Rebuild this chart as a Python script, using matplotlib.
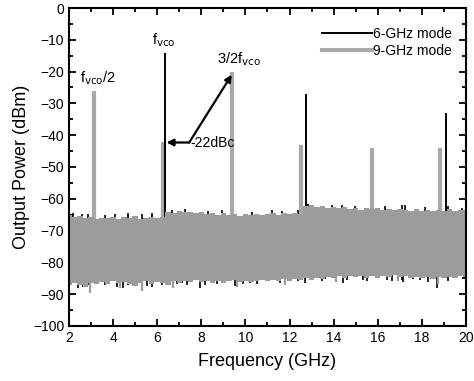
import matplotlib
matplotlib.use('Agg')
import matplotlib.pyplot as plt
from matplotlib.lines import Line2D

plt.rcParams['font.family'] = ['Liberation Sans', 'DejaVu Sans']

# noise floor envelope (GHz, dBm)
noise_freq = [2.00, 2.25, 2.50, 2.75, 3.00, 3.25, 3.50, 3.75, 4.00, 4.25,
              4.50, 4.75, 5.00, 5.25, 5.50, 5.75, 6.00, 6.25, 6.50, 6.75,
              7.00, 7.25, 7.50, 7.75, 8.00, 8.25, 8.50, 8.75, 9.00, 9.25,
              9.50, 9.75, 10.00, 10.25, 10.50, 10.75, 11.00, 11.25, 11.50,
              11.75, 12.00, 12.25, 12.50, 12.75, 13.00, 13.25, 13.50, 13.75,
              14.00, 14.25, 14.50, 14.75, 15.00, 15.25, 15.50, 15.75, 16.00,
              16.25, 16.50, 16.75, 17.00, 17.25, 17.50, 17.75, 18.00, 18.25,
              18.50, 18.75, 19.00, 19.25, 19.50, 19.75, 20.00]
noise_hi = [-65.2, -65.8, -65.5, -66.0, -65.6, -66.3, -65.9, -66.1, -65.7,
            -66.4, -65.8, -66.0, -65.5, -66.2, -65.9, -65.6, -66.1, -65.8,
            -64.0, -64.4, -63.8, -64.3, -64.0, -64.6, -64.2, -64.8, -64.5,
            -65.0, -64.6, -65.2, -64.8, -65.3, -64.9, -65.1, -64.7, -65.2,
            -64.8, -64.5, -65.0, -64.6, -64.9, -64.4, -64.7,
            -62.4, -62.0, -62.6, -62.2, -62.8, -62.5, -63.0, -62.6, -63.2,
            -62.8, -63.4, -63.0, -63.3, -62.9, -63.5, -63.1, -63.6, -63.2,
            -63.4, -63.8, -63.3, -63.7, -63.4, -63.9, -63.5, -63.8, -63.3,
            -63.7, -63.4, -63.6]
noise_lo = [-87.0, -86.5, -87.2, -87.8, -86.4, -86.9, -86.2, -86.8, -86.0,
            -86.6, -86.1, -86.9, -87.5, -86.4, -86.0, -86.7, -86.2, -86.5,
            -87.2, -86.0, -86.5, -85.8, -86.2, -85.6, -86.3, -85.8, -86.4,
            -85.9, -86.5, -86.0, -85.6, -86.2, -85.8, -86.3, -85.9, -85.4,
            -86.0, -85.5, -85.9, -85.3, -85.8, -85.2, -85.6,
            -85.0, -85.4, -84.8, -85.2, -84.6, -85.0, -84.4, -84.8, -84.2,
            -84.7, -84.3, -84.9, -84.4, -84.8, -84.2, -84.6, -84.1, -84.7,
            -84.3, -84.8, -84.5, -85.0, -84.6, -85.2, -84.7, -85.0, -84.5,
            -84.8, -84.3, -84.6]

# gray dips below the floor
gray_dip_freq = [2.95, 4.30, 5.30, 6.70, 9.60, 11.80, 14.10, 16.90, 18.75]
gray_dip_val = [-89.5, -88.0, -89.0, -88.2, -87.8, -87.2, -86.2, -86.0, -86.8]

# black excursions of the 6-GHz trace past the gray floor
black_lo_freq = [2.39, 2.65, 2.88, 3.63, 3.78, 4.16, 4.46, 4.69, 4.99, 5.52,
                 5.75, 6.20, 6.88, 7.11, 7.34, 7.94, 8.17, 8.70, 9.07, 9.53,
                 9.90, 10.21, 10.51, 11.04, 11.57, 12.40, 12.70, 13.46, 13.61,
                 14.44, 14.59, 15.34, 15.50, 16.40, 16.63, 17.09, 17.16,
                 17.61, 17.92, 18.29, 18.67, 19.20]
black_lo_val = [-88.0, -87.6, -87.2, -87.0, -86.8, -87.8, -88.0, -87.2, -86.8,
                -87.4, -87.8, -87.0, -86.8, -86.6, -87.2, -88.0, -87.0, -86.7,
                -86.5, -87.3, -86.8, -86.4, -86.8, -86.0, -86.6, -85.8, -86.4,
                -86.0, -85.2, -86.6, -85.6, -85.4, -86.0, -85.4, -85.8, -85.6,
                -86.2, -85.2, -85.6, -86.2, -88.0, -85.8]
black_hi_freq = [2.20, 2.57, 2.88, 3.63, 4.09, 4.69, 5.30, 5.75, 6.66, 7.26,
                 8.32, 8.92, 10.28, 11.19, 11.64, 12.40, 12.85, 13.91, 14.36,
                 14.97, 16.33, 17.08, 17.24, 18.14, 19.20, 19.80]
black_hi_val = [-64.6, -64.9, -64.7, -65.0, -64.8, -64.6, -64.9, -64.5, -63.4,
                -63.2, -63.8, -63.5, -64.0, -63.6, -63.9, -63.4, -61.6, -61.8,
                -62.0, -62.2, -62.4, -61.8, -62.0, -62.6, -62.4, -62.8]

# tones
mode6_freq = [6.35, 12.75, 19.09]
mode6_peak = [-14.0, -27.0, -33.0]
mode9_freq = [3.15, 6.28, 9.40, 12.50, 15.72, 18.82]
mode9_peak = [-26.0, -42.0, -20.0, -43.0, -44.0, -44.0]

band_gray = '#9c9c9c'
tone_gray = '#a8a8a8'

fig = plt.figure(figsize=(4.74, 3.81), dpi=100)
ax = fig.add_axes([0.1456, 0.1444, 0.8374, 0.8346])

ax.vlines(black_lo_freq, -80, black_lo_val, colors='black', lw=1.2, zorder=1)
ax.vlines(black_hi_freq, -70, black_hi_val, colors='black', lw=1.2, zorder=1)
ax.vlines(gray_dip_freq, -80, gray_dip_val, colors=band_gray, lw=1.6, zorder=1)
ax.vlines(mode9_freq, -75, mode9_peak, colors=tone_gray, lw=3.0, zorder=1)
ax.vlines(mode6_freq, -75, mode6_peak, colors='black', lw=1.4, zorder=1.5)
ax.fill_between(noise_freq, noise_lo, noise_hi, step='mid', color=band_gray,
                lw=0, zorder=2)

# labels on the tones
ax.text(6.3, -11.5, 'f$_{\\rm vco}$', ha='center', va='baseline', fontsize=10.5)
ax.text(2.5, -23.3, 'f$_{\\rm vco}$/2', ha='left', va='baseline', fontsize=10.5)
ax.text(8.7, -17.5, '3/2f$_{\\rm vco}$', ha='left', va='baseline', fontsize=10.5)
ax.text(7.5, -42.6, '-22dBc', ha='left', va='center', fontsize=10)
arrow = dict(arrowstyle='-|>', color='black', lw=1.6, mutation_scale=10,
             shrinkA=0, shrinkB=0)
ax.annotate('', xy=(6.42, -42.3), xytext=(7.45, -42.3), arrowprops=arrow)
ax.annotate('', xy=(9.38, -21.0), xytext=(7.45, -42.3), arrowprops=arrow)

ax.set_xlim(2, 20)
ax.set_ylim(-100, 0)
ax.set_xticks(range(2, 21, 2))
ax.set_xticks(range(2, 21, 1), minor=True)
ax.set_yticks(range(-100, 1, 10))
ax.set_yticks(range(-100, 1, 5), minor=True)
ax.tick_params(which='both', direction='in', top=True, right=True,
               labelsize=10, width=1.3)
ax.tick_params(which='major', length=5)
ax.tick_params(which='minor', length=3)
for s in ax.spines.values():
    s.set_linewidth(1.5)

ax.set_xlabel('Frequency (GHz)', fontsize=13, labelpad=6)
ax.set_ylabel('Output Power (dBm)', fontsize=13, labelpad=2)

handles = [Line2D([], [], color='black', lw=1.4),
           Line2D([], [], color=tone_gray, lw=3.0)]
ax.legend(handles, ['6-GHz mode', '9-GHz mode'], loc='upper right',
          bbox_to_anchor=(0.99, 0.97), frameon=False, fontsize=10,
          handlelength=3.6, handletextpad=0.1, labelspacing=0.2,
          borderaxespad=0.3)

fig.savefig('out.png', dpi=100)
